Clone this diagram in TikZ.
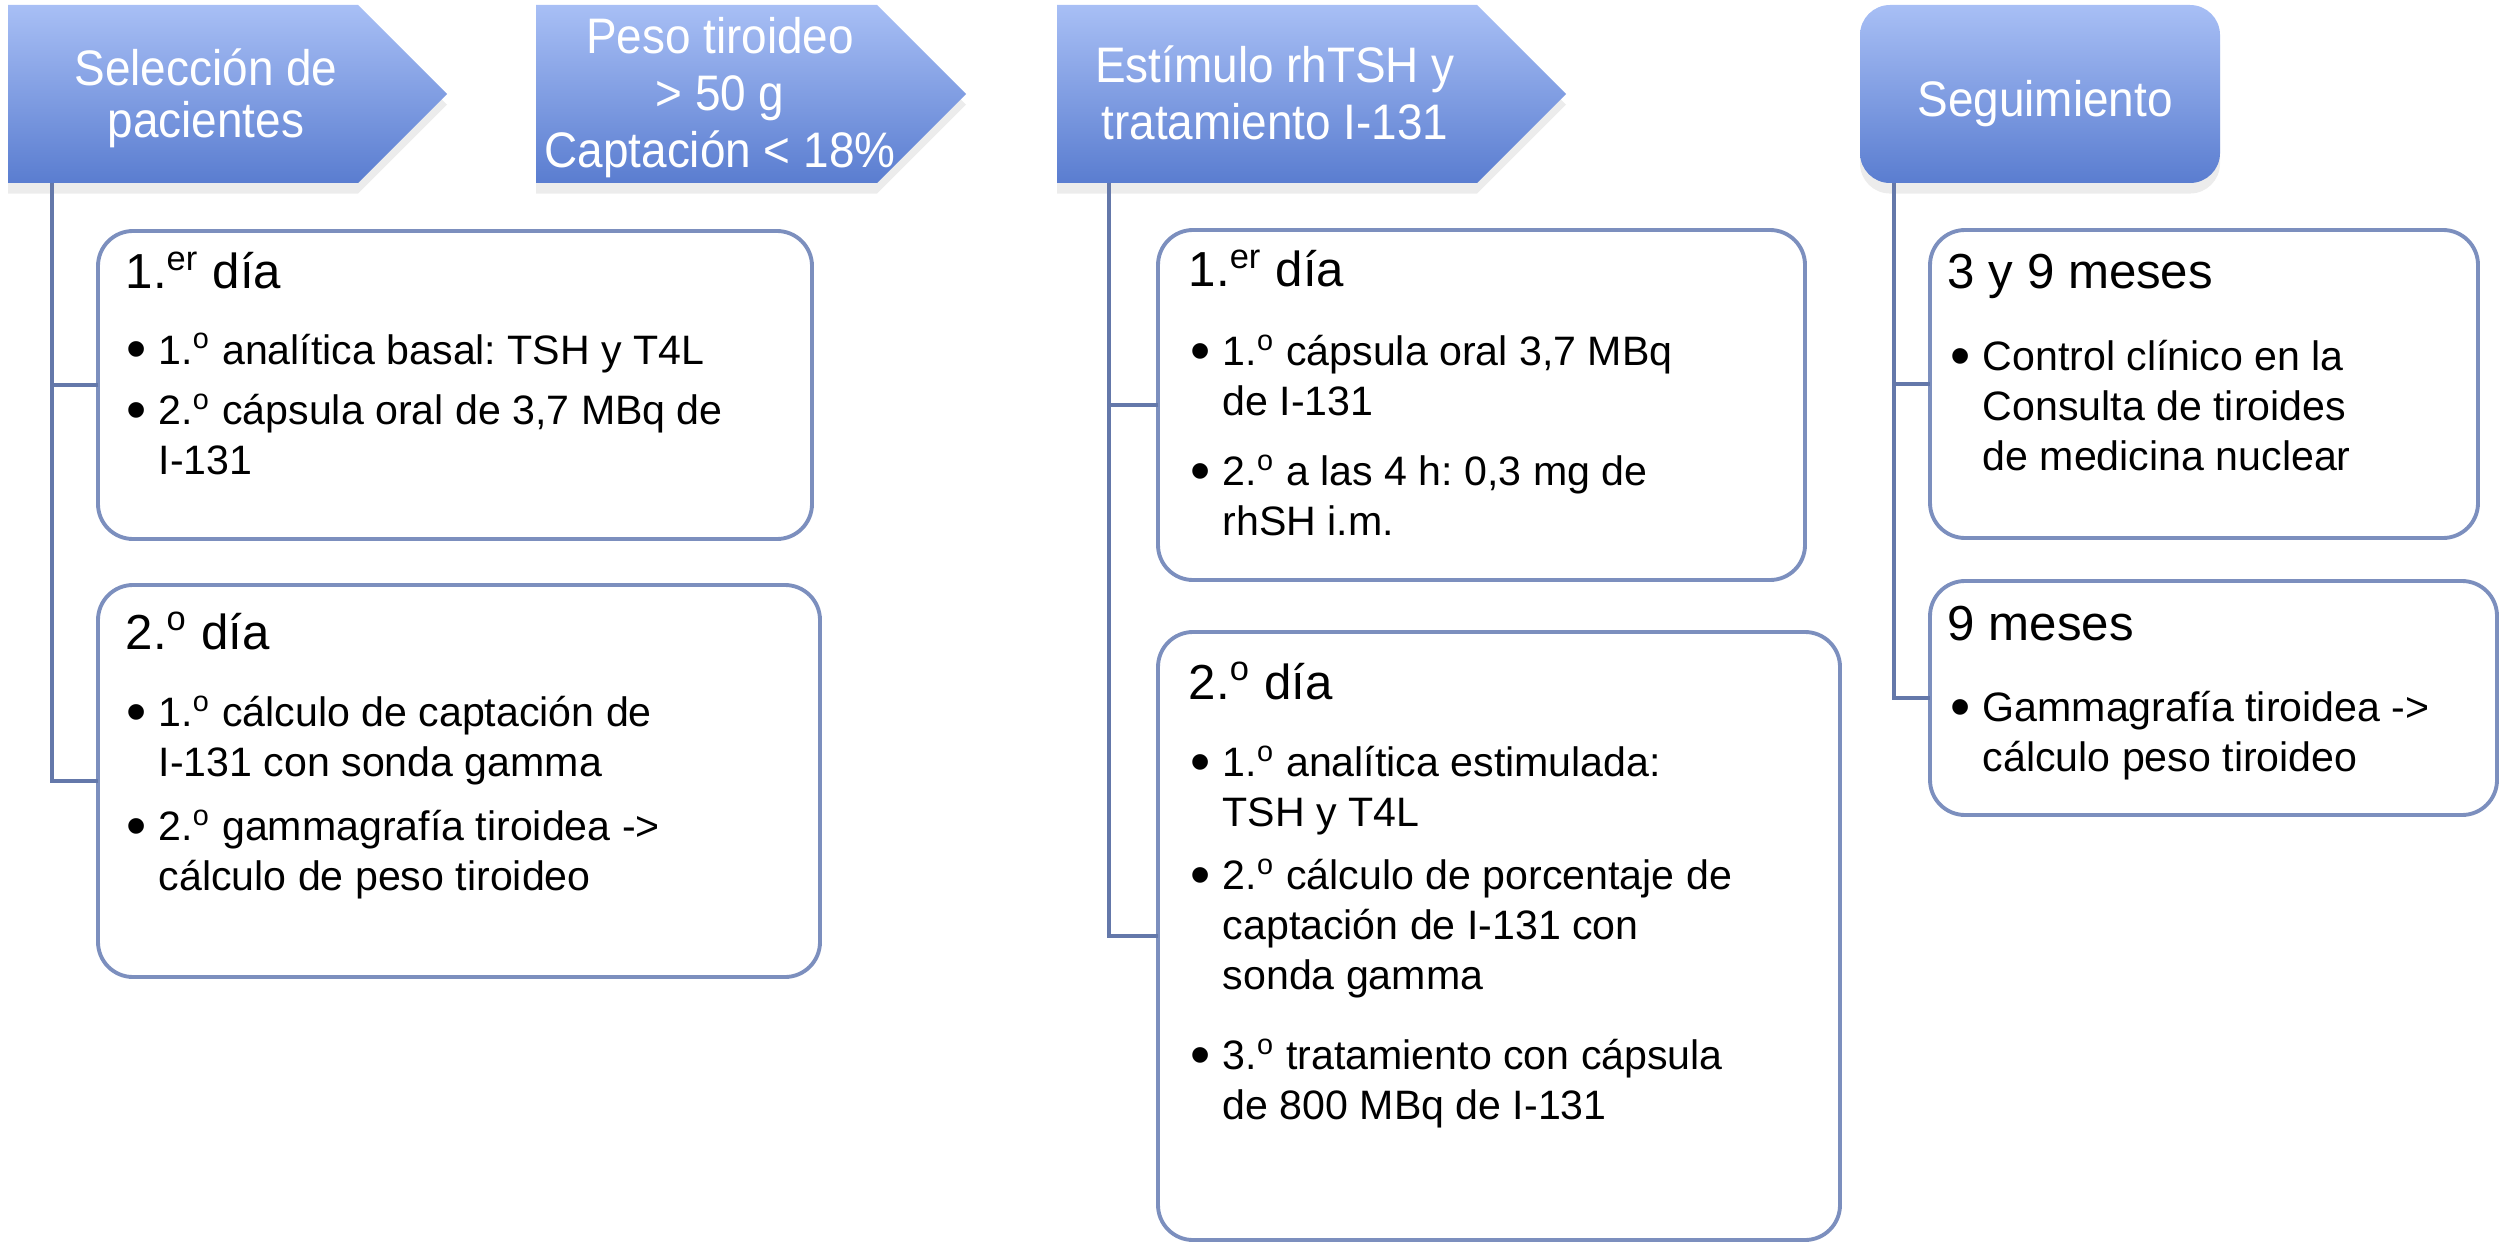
\documentclass[tikz,border=0pt]{standalone}
\usepackage{fontspec}
\setmainfont{Liberation Sans}
\newfontfamily\hdfont[FakeStretch=0.92]{Liberation Sans}
\usetikzlibrary{shadows}
\definecolor{hdtop}{RGB}{168,191,245}
\definecolor{hdbot}{RGB}{90,125,208}
\definecolor{boxline}{RGB}{124,143,190}
\definecolor{linkline}{RGB}{100,120,170}
\frenchspacing
\newcommand{\ord}[1]{\textsuperscript{#1}}
\newcommand{\bul}{\leavevmode\llap{\raisebox{-0.05cm}{\scalebox{1.4}{\textbullet}}\hspace{0.12cm}}}
\begin{document}
\begin{tikzpicture}[
  hdr/.style={top color=hdtop, bottom color=hdbot, draw=none,
    drop shadow={shadow xshift=0pt, shadow yshift=-3pt, opacity=.15}},
  hdtext/.style={text=white, align=center, inner sep=0pt, anchor=base,
    font=\hdfont\fontsize{14.2}{16.3}\selectfont},
  box/.style={draw=boxline, line width=1.1pt, rounded corners=0.35cm, fill=white,
    anchor=north west, inner sep=0pt, outer sep=0pt},
  title/.style={anchor=base west, inner sep=0pt, font=\fontsize{14}{16}\selectfont},
  item/.style={anchor=base west, inner sep=0pt, align=left,
    font=\fontsize{11.7}{14.1}\selectfont},
  link/.style={draw=linkline, line width=1.2pt}
]
\useasboundingbox (0,0) rectangle (25,-12.5);

\path[hdr] (0.08,-0.05)--(3.58,-0.05)--(4.47,-0.94)--(3.58,-1.83)--(0.08,-1.83)--cycle;
\path[hdr] (5.36,-0.05)--(8.77,-0.05)--(9.66,-0.94)--(8.77,-1.83)--(5.36,-1.83)--cycle;
\path[hdr] (10.57,-0.05)--(14.77,-0.05)--(15.66,-0.94)--(14.77,-1.83)--(10.57,-1.83)--cycle;
\path[hdr, rounded corners=0.3cm] (18.60,-0.05) rectangle (22.20,-1.83);

% base anchor = last line of a node
\node[hdtext, font=\hdfont\fontsize{14.2}{14.8}\selectfont] (sel) at (2.06,-1.38) {Selección de\\pacientes};
\node[hdtext] (peso) at (7.20,-1.68) {Peso tiroideo\\> 50 g\\Captación < 18\%};
\node[hdtext] (estim) at (12.75,-1.40) {Estímulo rhTSH y\\tratamiento I-131};
\node[hdtext] (seg) at (20.45,-1.17) {Seguimiento};

\node[box, minimum width=7.14cm, minimum height=3.08cm] (d11) at (0.98,-2.31) {};
\node[box, minimum width=7.22cm, minimum height=3.92cm] (d12) at (0.98,-5.85) {};
\node[box, minimum width=6.47cm, minimum height=3.50cm] (d31) at (11.58,-2.30) {};
\node[box, minimum width=6.82cm, minimum height=6.08cm] (d32) at (11.58,-6.32) {};
\node[box, minimum width=5.48cm, minimum height=3.08cm] (d41) at (19.30,-2.30) {};
\node[box, minimum width=5.67cm, minimum height=2.34cm] (d42) at (19.30,-5.81) {};

\coordinate (f1) at (0.52,-1.83);
\coordinate (f3) at (11.09,-1.83);
\coordinate (f4) at (18.94,-1.83);
\foreach \f/\b in {f1/d11,f1/d12,f3/d31,f3/d32,f4/d41,f4/d42}
{
    \draw[link] (\f) |- (\b.west);
}

\node[title] (t11) at (1.25,-2.89) {1.\ord{er} día};
\node[item] (i111) at (1.58,-3.64) {\bul 1.\ord{o} analítica basal: TSH y T4L};
\node[item] (i112) at (1.58,-4.74) {\bul 2.\ord{o} cápsula oral de 3,7 MBq de\\I-131};
\node[title] (t12) at (1.25,-6.49) {2.\ord{o} día};
\node[item] (i121) at (1.58,-7.76) {\bul 1.\ord{o} cálculo de captación de\\I-131 con sonda gamma};
\node[item] (i122) at (1.58,-8.90) {\bul 2.\ord{o} gammagrafía tiroidea ->\\cálculo de peso tiroideo};

\node[title] (t31) at (11.88,-2.87) {1.\ord{er} día};
\node[item] (i311) at (12.22,-4.15) {\bul 1.\ord{o} cápsula oral 3,7 MBq\\de I-131};
\node[item] (i312) at (12.22,-5.35) {\bul 2.\ord{o} a las 4 h: 0,3 mg de\\rhSH i.m.};
\node[title] (t32) at (11.88,-6.99) {2.\ord{o} día};
\node[item] (i321) at (12.22,-8.26) {\bul 1.\ord{o} analítica estimulada:\\TSH y T4L};
\node[item] (i322) at (12.22,-9.89) {\bul 2.\ord{o} cálculo de porcentaje de\\captación de I-131 con\\sonda gamma};
\node[item] (i323) at (12.22,-11.19) {\bul 3.\ord{o} tratamiento con cápsula\\de 800 MBq de I-131};

\node[title] (t41) at (19.47,-2.88) {3 y 9 meses};
\node[item] (i411) at (19.82,-4.70) {\bul Control clínico en la\\Consulta de tiroides\\de medicina nuclear};
\node[title] (t42) at (19.47,-6.40) {9 meses};
\node[item] (i421) at (19.82,-7.71) {\bul Gammagrafía tiroidea ->\\cálculo peso tiroideo};

\end{tikzpicture}
\end{document}
